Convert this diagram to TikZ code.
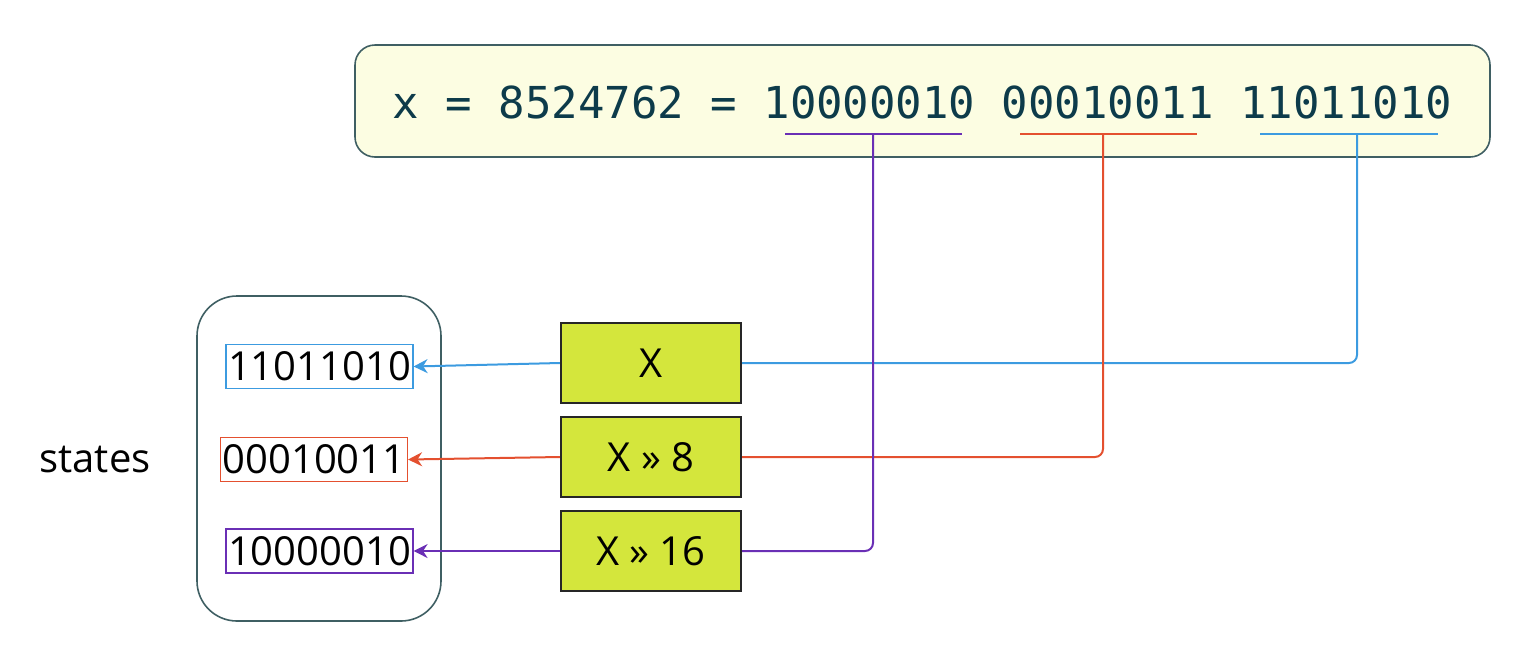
\documentclass[tikz,border=0pt]{standalone}
\usepackage{fontspec}
\setmainfont{Open Sans}
\setmonofont{DejaVu Sans Mono}
\usetikzlibrary{arrows.meta}
\definecolor{cblue}{HTML}{3C9BE0}
\definecolor{corange}{HTML}{E4502F}
\definecolor{cpurple}{HTML}{6A2FB5}
\definecolor{cgreen}{HTML}{D4E63C}
\definecolor{cyel}{HTML}{FCFDE2}
\definecolor{cteal}{HTML}{0D3B4A}
\definecolor{cgray}{HTML}{3F5F63}
\tikzset{
  opbox/.style={draw=black!85, line width=1.2pt, fill=cgreen, minimum width=90pt, minimum height=40pt, inner sep=0pt, font=\fontsize{20}{24}\selectfont},
  stbox/.style={draw=#1, line width=0.6pt, inner sep=1pt, minimum height=22pt, font=\fontsize{20}{24}\selectfont},
  conn/.style={draw=#1, line width=1pt, rounded corners=4pt},
  arr/.style={draw=#1, line width=1pt, -{Stealth[length=7pt,width=7pt]}},
  ul/.style={draw=#1, line width=1pt}
}
\begin{document}
\begin{tikzpicture}[x=0.5pt,y=-0.5pt]
\useasboundingbox (0,0) rectangle (1536,649);
\node[draw=cgray, line width=0.8pt, fill=cyel, rounded corners=10pt, minimum width=567.5pt, minimum height=56pt] (top) at (922.5,101) {};
\node[text=cteal, font=\ttfamily\fontsize{22}{26}\selectfont, inner sep=0pt] (eq) at (922.5,102) {x = 8524762 = 10000010 00010011 11011010};
\coordinate (pu1) at (785,134); \coordinate (pu2) at (962,134);
\coordinate (or1) at (1020,134); \coordinate (or2) at (1197,134);
\coordinate (bl1) at (1260,134); \coordinate (bl2) at (1438,134);
\draw[ul=cpurple] (pu1) -- (pu2);
\draw[ul=corange] (or1) -- (or2);
\draw[ul=cblue] (bl1) -- (bl2);
\coordinate (pum) at (873,134); \coordinate (orm) at (1103,134); \coordinate (blm) at (1357,134);

\node[draw=cgray, line width=0.8pt, rounded corners=20pt, minimum width=122pt, minimum height=162.5pt] (states) at (319,458.5) {};
\node[font=\fontsize{20}{24}\selectfont] (lbl) at (95,460) {states};

\node[opbox] (o1) at (651,363) {X};
\node[opbox] (o2) at (651,457) {X >> 8};
\node[opbox] (o3) at (651,551) {X >> 16};

\node[stbox=cblue] (s1) at (319.5,366.5) {11011010};
\node[stbox=corange] (s2) at (314,459.5) {00010011};
\node[stbox=cpurple] (s3) at (319.5,551) {10000010};

\draw[conn=cblue] (blm) |- (o1.east);
\draw[conn=corange] (orm) |- (o2.east);
\draw[conn=cpurple] (pum) |- (o3.east);
\draw[arr=cblue] (o1.west) -- (s1.east);
\draw[arr=corange] (o2.west) -- (s2.east);
\draw[arr=cpurple] (o3.west) -- (s3.east);
\end{tikzpicture}
\end{document}
